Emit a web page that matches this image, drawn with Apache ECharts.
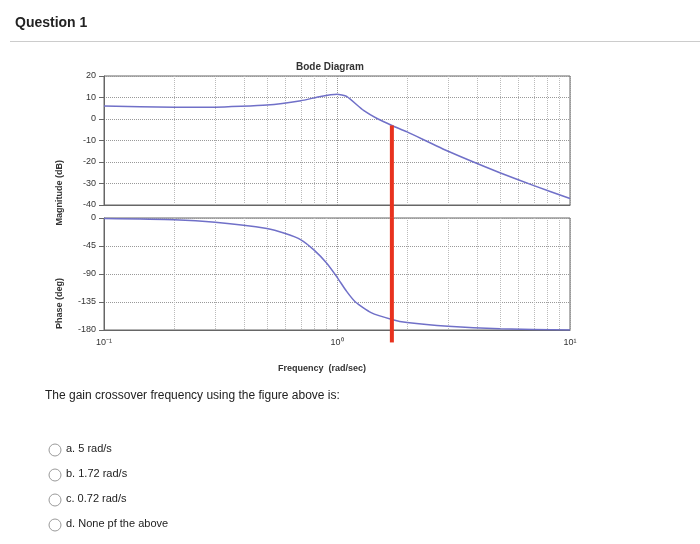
<!DOCTYPE html>
<html><head><meta charset="utf-8">
<script src="https://cdn.jsdelivr.net/npm/echarts@6/dist/echarts.min.js"></script>
<style>html,body{margin:0;background:#fff}#c{width:700px;height:544px}</style>
</head><body><div id="c"></div>
<script>
const magFreq = [0.1,0.2,0.3,0.5,0.7,0.85,1.0,1.1,1.3,1.5,1.72,2,3,5,7,10];
const magDb   = [6,5.5,5.5,6.5,8.5,10.5,11.5,10.5,4,0,-3,-6,-15,-25,-31,-37];
const phFreq  = [0.1,0.2,0.3,0.5,0.6,0.7,0.8,0.9,1.0,1.1,1.2,1.4,1.72,2,3,5,10];
const phDeg   = [-1,-3,-7,-17,-25,-35,-52,-72,-95,-118,-135,-152,-163,-168,-174,-178,-180];
const crossover = 1.72;
const magTicks = [20,10,0,-10,-20,-30,-40];
const phTicks = [0,-45,-90,-135,-180];
const options = ['a. 5 rad/s','b. 1.72 rad/s','c. 0.72 rad/s','d. None pf the above'];

const ch = echarts.init(document.getElementById('c'));
const font = 'Liberation Sans, Arial, sans-serif';
const gl = {show:true,lineStyle:{type:'dotted',color:'#999'}};
const xa = (i,labels)=>({type:'log',logBase:10,min:0.1,max:10,gridIndex:i,
  axisLine:{show:true,onZero:false,lineStyle:{color:'#666'}},axisTick:{show:false},
  minorTick:{show:true,splitNumber:9,length:0},splitLine:gl,minorSplitLine:{show:true,lineStyle:{type:'dotted',color:'#bbb'}},
  axisLabel:{show:labels,color:'#333',fontSize:9,fontFamily:font,margin:8,
    formatter:v=>v<0.5?'10⁻¹':v<5?'10⁰':'10¹'}});
const graphics = [
  {type:'text',left:15,top:16,style:{text:'Question 1',font:'bold 14px '+font,fill:'#222'}},
  {type:'rect',shape:{x:10,y:41,width:690,height:1},style:{fill:'#ccc'}},
  {type:'text',left:45,top:390,style:{text:'The gain crossover frequency using the figure above is:',font:'12px '+font,fill:'#222'}},
  {type:'text',left:296,top:62,style:{text:'Bode Diagram',font:'bold 10px '+font,fill:'#333'}},
  {type:'text',left:278,top:364,style:{text:'Frequency  (rad/sec)',font:'bold 9px '+font,fill:'#333'}},
  {type:'text',left:55,top:160,rotation:Math.PI/2,style:{text:'Magnitude (dB)',font:'bold 9px '+font,fill:'#333'}},
  {type:'text',left:55,top:278,rotation:Math.PI/2,style:{text:'Phase (deg)',font:'bold 9px '+font,fill:'#333'}}
];
options.forEach((t,i)=>{
  const y=450+i*25;
  graphics.push({type:'circle',shape:{cx:55,cy:y,r:6},style:{fill:'#fff',stroke:'#999',lineWidth:1}});
  graphics.push({type:'text',left:66,top:y-7,style:{text:t,font:'11px '+font,fill:'#222'}});
});
ch.setOption({
  animation:false,
  graphic:graphics,
  grid:[{left:104,width:466,top:76,height:129,show:true,borderColor:'#666',borderWidth:1},
        {left:104,width:466,top:218,height:112,show:true,borderColor:'#666',borderWidth:1}],
  xAxis:[xa(0,false),xa(1,true)],
  yAxis:[
    {type:'value',gridIndex:0,min:-40,max:20,interval:10,axisLine:{show:true,lineStyle:{color:'#666'}},
     axisLabel:{color:'#333',fontSize:9,fontFamily:font},splitLine:gl,axisTick:{show:true}},
    {type:'value',gridIndex:1,min:-180,max:0,interval:45,axisLine:{show:true,lineStyle:{color:'#666'}},
     axisLabel:{color:'#333',fontSize:9,fontFamily:font},splitLine:gl,axisTick:{show:true}}
  ],
  series:[
    {type:'line',xAxisIndex:0,yAxisIndex:0,smooth:0.15,symbol:'none',lineStyle:{color:'#7070c8',width:1.5},
     data:magFreq.map((f,i)=>[f,magDb[i]])},
    {type:'line',xAxisIndex:1,yAxisIndex:1,smooth:0.2,symbol:'none',lineStyle:{color:'#7070c8',width:1.5},
     data:phFreq.map((f,i)=>[f,phDeg[i]])},
    {type:'line',xAxisIndex:0,yAxisIndex:0,symbol:'none',clip:false,lineStyle:{color:'#e8321e',width:4},z:5,
     data:[[crossover,-3],[crossover,-46]]},
    {type:'line',xAxisIndex:1,yAxisIndex:1,symbol:'none',clip:false,lineStyle:{color:'#e8321e',width:4},z:5,
     data:[[crossover,0],[crossover,-200]]}
  ]
});
</script></body></html>
